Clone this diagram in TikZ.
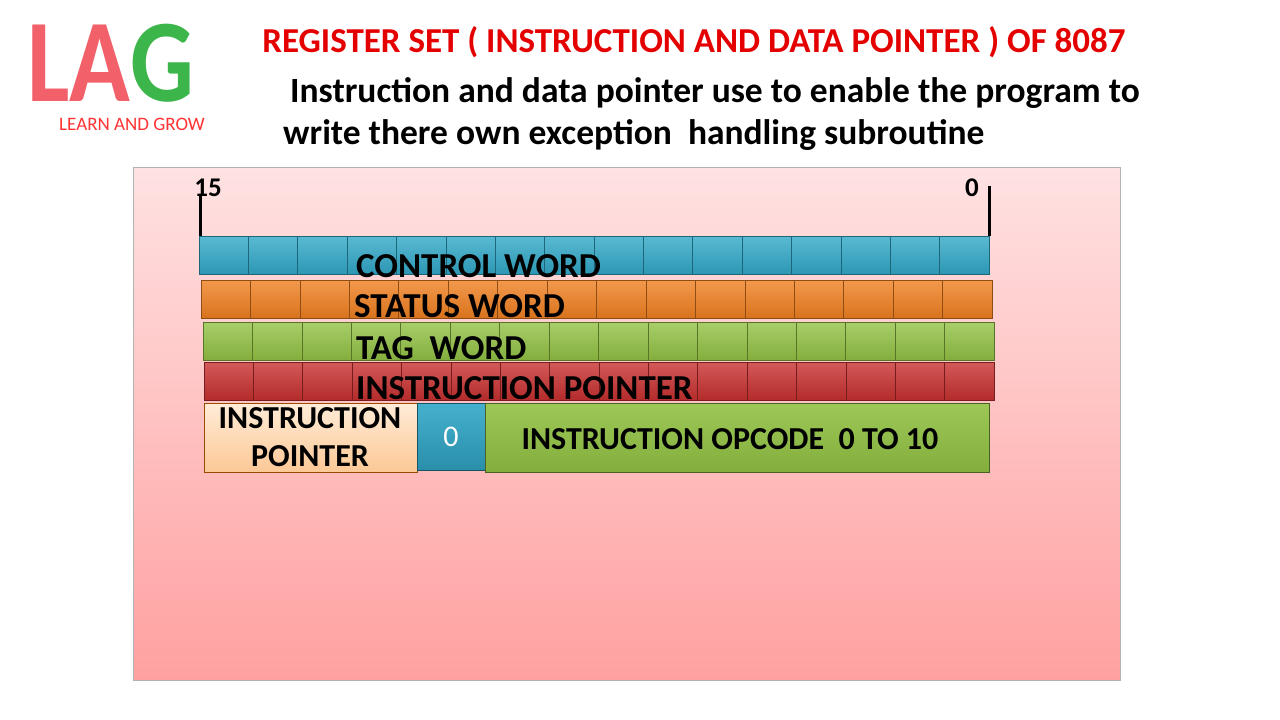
\documentclass[tikz,border=0pt]{standalone}
\usepackage{fontspec}
\setmainfont{Carlito}
\definecolor{rowA}{RGB}{49,168,200}
\definecolor{rowB}{RGB}{240,128,32}
\definecolor{rowC}{RGB}{146,194,68}
\definecolor{rowD}{RGB}{200,48,48}
\definecolor{pinkT}{RGB}{255,226,226}
\definecolor{pinkB}{RGB}{255,160,160}
\begin{document}
\begin{tikzpicture}[x=1pt,y=-1pt,
  lbl/.style={font=\fontsize{35}{36}\selectfont\bfseries,anchor=west,inner sep=0}]
\useasboundingbox (0,0) rectangle (1280,720);
\fill[white] (0,0) rectangle (1280,720);
% logo
\node[inner sep=0,anchor=base west,text depth=0pt,xscale=0.85,font=\fontsize{118}{118}\selectfont\bfseries] (logo) at (27,101)
  {\textcolor[HTML]{F2606A}{LA}\textcolor[HTML]{3CB54A}{G}};
\node[inner sep=0,font=\fontsize{19}{19}\selectfont,text=red!80!white] (lg) at (132,124) {LEARN AND GROW};
% title
\node[inner sep=0,font=\fontsize{35}{36}\selectfont\bfseries,text=red!90!black] (title) at (694,42)
  {REGISTER SET ( INSTRUCTION AND DATA POINTER ) OF 8087};
\node[inner sep=0,anchor=west,font=\fontsize{35.5}{36}\selectfont\bfseries] (s1) at (290,93)
  {Instruction and data pointer use to enable the program to};
\node[inner sep=0,anchor=west,font=\fontsize{35.5}{36}\selectfont\bfseries] (s2) at (283,135)
  {write there own exception\ \ handling subroutine};
% pink box
\shade[top color=pinkT,bottom color=pinkB] (133,167) rectangle (1120,680);
\draw[gray!60,line width=0.5pt] (133,167) rectangle (1120,680);
\node[inner sep=0,font=\fontsize{27}{27}\selectfont\bfseries] (n15) at (208,188) {15};
\node[inner sep=0,font=\fontsize{27}{27}\selectfont\bfseries] (n0) at (972,188) {0};
\draw[line width=3pt] (200,196) -- (200,240);
\draw[line width=3pt] (989,186) -- (989,236);
% rows
\foreach \xa/\xb/\ya/\yb/\c in {199/989/236/274/rowA, 201/992/280/318/rowB,
   203/994/322/360/rowC, 204/994/362/400/rowD}{
  \pgfmathsetmacro\w{(\xb-\xa)/16}
  \foreach \i in {0,...,15}{
    \shade[top color=\c!80!white,bottom color=\c!90!black]
      ({\xa+\i*\w},\ya) rectangle ({\xa+(\i+1)*\w},\yb);
    \draw[\c!60!black,line width=0.6pt] ({\xa+\i*\w},\ya) rectangle ({\xa+(\i+1)*\w},\yb);
  }
}
\node[lbl] (cw) at (356,266) {CONTROL WORD};
\node[lbl] (sw) at (354,306) {STATUS WORD};
\node[lbl] (tw) at (356,348) {TAG\ \ WORD};
\node[lbl] (ip) at (356,388) {INSTRUCTION POINTER};
% bottom row
\shade[top color={rgb,255:red,255;green,236;blue,215},bottom color={rgb,255:red,252;green,200;blue,150}]
  (204,403) rectangle (417,472);
\draw[orange!60!black,line width=0.5pt] (204,403) rectangle (417,472);
\node[align=center,font=\fontsize{32}{38}\selectfont\bfseries] (ipb) at (310,437) {INSTRUCTION\\POINTER};
\shade[top color=rowA!90!white,bottom color=rowA!85!black] (417,403) rectangle (485,470);
\draw[rowA!50!black,line width=0.5pt] (417,403) rectangle (485,470);
\node[text=white,font=\fontsize{30}{30}\selectfont] (z) at (451,437) {0};
\shade[top color=rowC!90!white,bottom color=rowC!90!black] (485,403) rectangle (989,472);
\draw[rowC!50!black,line width=0.5pt] (485,403) rectangle (989,472);
\node[font=\fontsize{32}{32}\selectfont\bfseries] (op) at (730,439) {INSTRUCTION OPCODE\ \ 0 TO 10};
\end{tikzpicture}
\end{document}
